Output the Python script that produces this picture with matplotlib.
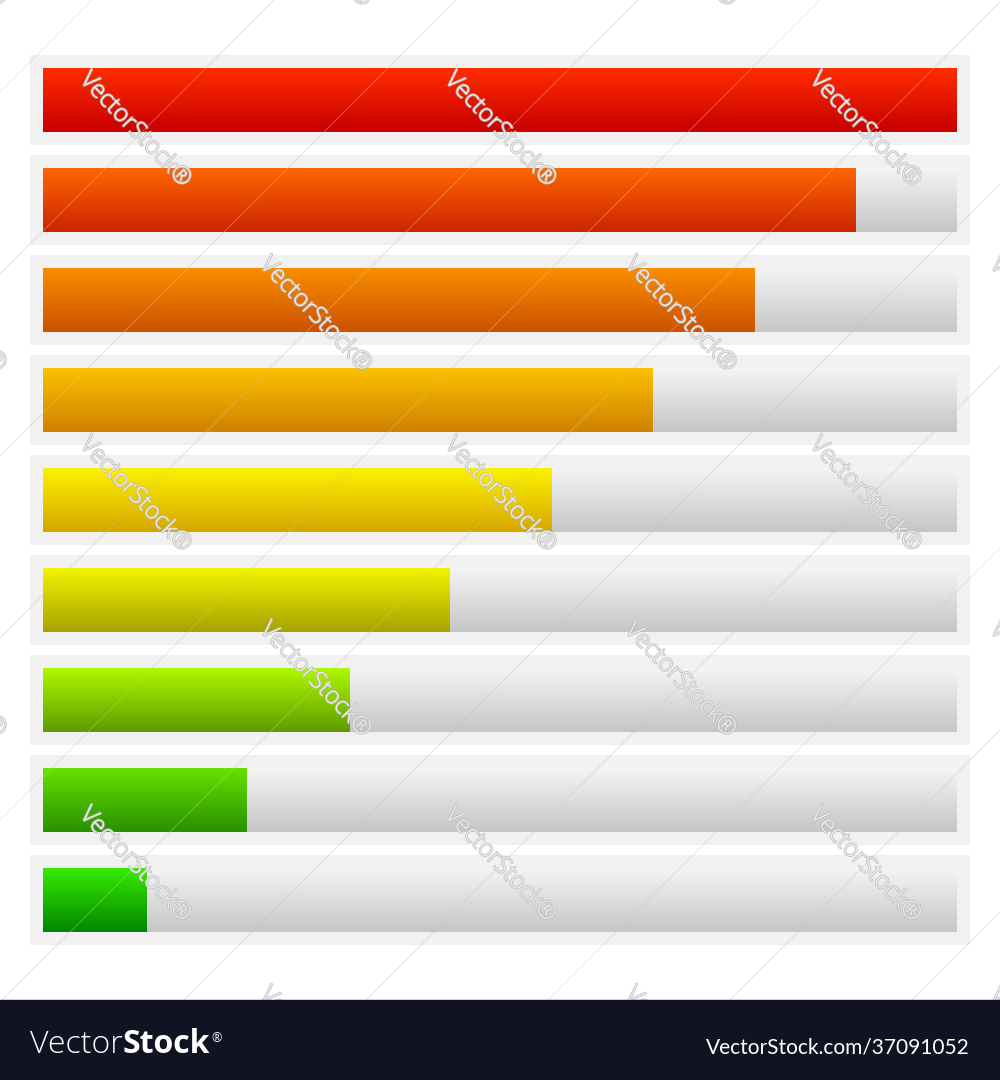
import numpy as np
import matplotlib
matplotlib.use("Agg")
import matplotlib.pyplot as plt
import matplotlib.colors as mcolors
from matplotlib.patches import Rectangle
import matplotlib.patheffects as pe

# Fortschrittsbalken (Prozent), von oben nach unten
levels = [100.0, 88.9, 77.8, 66.7, 55.6, 44.5, 33.5, 22.3, 11.3]

# Verlaufsfarben je Balken: oben / unten
top_colors = ["#ff2c00", "#ff6600", "#f98e00", "#fbc000", "#fbf200",
              "#f2f400", "#aef800", "#66e200", "#38ea00"]
bottom_colors = ["#c80000", "#cc2400", "#cc5200", "#d08200", "#d6a600",
                 "#a8a200", "#5e9c00", "#2a9000", "#008600"]

track_top = "#f4f4f4"
track_bottom = "#c6c6c6"

footer_left = ("Vector", "Stock", "®")
footer_right = "VectorStock.com/37091052"
watermark = "VectorStock®"

W, H = 1000, 1080
fig = plt.figure(figsize=(W / 100, H / 100), dpi=100)
fig.patch.set_facecolor("white")

# Balken-Achse: Rahmen von x=30..970 px, Zeilen 50..950 px
pad = 13 / 914 * 100
ax = fig.add_axes([30 / W, (H - 950) / H, 940 / W, 900 / H])
ax.set_xlim(-pad, 100 + pad)
ax.set_ylim(len(levels) - 0.5, -0.5)
ax.axis("off")

rows = np.arange(len(levels))

# heller Rahmen
ax.barh(rows, 100 + 2 * pad, left=-pad, height=0.9, color="#f1f1f1", zorder=1)


def gradient_fill(patch, c_top, c_bot, z):
    a = np.array(mcolors.to_rgb(c_top))
    b = np.array(mcolors.to_rgb(c_bot))
    t = np.linspace(0, 1, 64)[:, None]
    img = (a * (1 - t) + b * t)[:, None, :]
    x0, y0 = patch.get_x(), patch.get_y()
    w, h = patch.get_width(), patch.get_height()
    im = ax.imshow(img, extent=(x0, x0 + w, y0 + h, y0), aspect="auto",
                   interpolation="bilinear", zorder=z)
    im.set_clip_path(patch)


# grauer Hintergrund der Leiste
tracks = ax.barh(rows, [100] * len(levels), height=0.64, color=track_bottom, zorder=2)
for p in tracks:
    gradient_fill(p, track_top, track_bottom, 2.5)

# farbige Füllung
fills = ax.barh(rows, levels, height=0.64, color=bottom_colors, zorder=3)
for p, ct, cb in zip(fills, top_colors, bottom_colors):
    gradient_fill(p, ct, cb, 3.5)

ax.set_xlim(-pad, 100 + pad)
ax.set_ylim(len(levels) - 0.5, -0.5)

# Overlay: Wasserzeichen, Linien, Fußzeile (Pixelkoordinaten)
ov = fig.add_axes([0, 0, 1, 1], zorder=5)
ov.set_xlim(0, W)
ov.set_ylim(H, 0)
ov.axis("off")
ov.patch.set_alpha(0)

# diagonale Linien (x + y = c)
for c in np.arange(92, 2100, 182):
    ov.plot([c, c - 1100], [0, 1100], color="#c4c4c4", lw=0.6, alpha=0.5, zorder=1)

# Wasserzeichen-Raster
wm_rows = [-50, 130, 315, 495, 680, 865, 1045]
for i, yy in enumerate(wm_rows):
    xs = [135, 500, 865] if i % 2 == 1 else [-50, 315, 680, 1045]
    for xx in xs:
        ov.text(xx, yy, watermark, rotation=-46, rotation_mode="anchor",
                ha="center", va="center", fontsize=17.5, family="Open Sans",
                fontweight="light", color="#f8f8f8", alpha=0.85, zorder=2,
                path_effects=[pe.withStroke(linewidth=1.3, foreground="#bcbcbc")])

# Fußzeile
ov.add_patch(Rectangle((0, 1000), W, 80, color="#121322", zorder=3))
t1 = ov.text(30, 1053, footer_left[0], fontsize=23, family="Open Sans", fontweight="light",
             color="white", ha="left", va="baseline", zorder=4)
t2 = ov.annotate(footer_left[1], xy=(1, 0), xycoords=t1, fontsize=23, family="Open Sans",
                 fontweight="bold", color="white", ha="left", va="bottom", zorder=4)
ov.annotate(footer_left[2], xy=(1, 1), xycoords=t2, xytext=(1, -3), textcoords="offset points",
            fontsize=9, family="Open Sans", color="white", ha="left", va="top", zorder=4)
ov.text(970, 1053, footer_right, fontsize=15, family="Lato", color="white",
        ha="right", va="baseline", zorder=4)

fig.savefig("out.png", dpi=100, facecolor="white")
